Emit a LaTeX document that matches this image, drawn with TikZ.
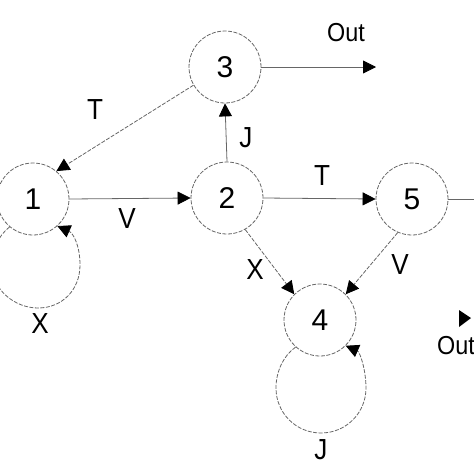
\documentclass[tikz,border=0pt]{standalone}
\usepackage{fontspec}
\setmainfont{Liberation Sans}
\newfontfamily\narrowfont[FakeStretch=0.9]{Liberation Sans}
\usetikzlibrary{arrows.meta}
\begin{document}
\begin{tikzpicture}[x=1pt,y=-1pt,
  st/.style={circle,draw=black!60,dash pattern=on 4pt off 1.5pt,line width=0.8pt,minimum size=72pt,inner sep=0pt,font=\fontsize{30}{30}\selectfont},
  lab/.style={font=\narrowfont\fontsize{29}{29}\selectfont,inner sep=0pt},
  outlab/.style={font=\narrowfont\fontsize{26}{26}\selectfont,inner sep=0pt},
  con/.style={draw=black!60,line width=0.8pt,-{Triangle[length=13pt,width=13pt,color=black]}},
  dcon/.style={con,dash pattern=on 4pt off 1.5pt},
  plain/.style={draw=black!60,line width=0.8pt}]
\useasboundingbox (0,0) rectangle (474,474);
\node[st] (n3) at (225,67) {3};
\node[st] (n1) at (33,199) {1};
\node[st] (n2) at (227,198) {2};
\node[st] (n5) at (412,199) {5};
\node[st] (n4) at (320,320) {4};
\coordinate (o3) at (376,67);
\coordinate (o5) at (490,199);
% connectors
\draw[con] (n3.east) -- (o3);
\draw[dcon] (n3.210) -- (n1.50);
\draw[con] (n2.north) -- (n3.south);
\draw[con] (n1.east) -- (n2.west);
\draw[con] (n2.east) -- (n5.west);
\draw[dcon] (n2.-60) -- (n4.135);
\draw[dcon] (n5.247) -- (n4.45);
\draw[plain] (n5.east) -- (o5);
\fill[black] (459,310) -- (471,318) -- (459,327) -- cycle;
% self loops
\draw[dcon] (n1.230) .. controls (-2,236) and (-8,250) .. (-8,265)
  .. controls (-8,290) and (15,308) .. (38,308)
  .. controls (62,308) and (80,290) .. (80,265)
  .. controls (80,245) and (73,233) .. (n1.-48);
\draw[dcon] (n4.228) .. controls (283,356) and (276,372) .. (276,388)
  .. controls (276,413) and (296,433) .. (321,433)
  .. controls (346,433) and (366,413) .. (366,388)
  .. controls (366,370) and (360,352) .. (n4.-45);
% labels
\node[outlab] (lout) at (346,33) {Out};
\node[lab] (lt1) at (95,110) {T};
\node[lab] (lj1) at (246,138) {J};
\node[lab] (lv1) at (127,219) {V};
\node[lab] (lt2) at (322,176) {T};
\node[lab] (lx1) at (40,324) {X};
\node[lab] (lx2) at (255,270) {X};
\node[lab] (lv2) at (400,265) {V};
\node[lab] (lj2) at (321,450) {J};
\node[outlab,anchor=west] (lout2) at (437,346) {Out};
\end{tikzpicture}
\end{document}
